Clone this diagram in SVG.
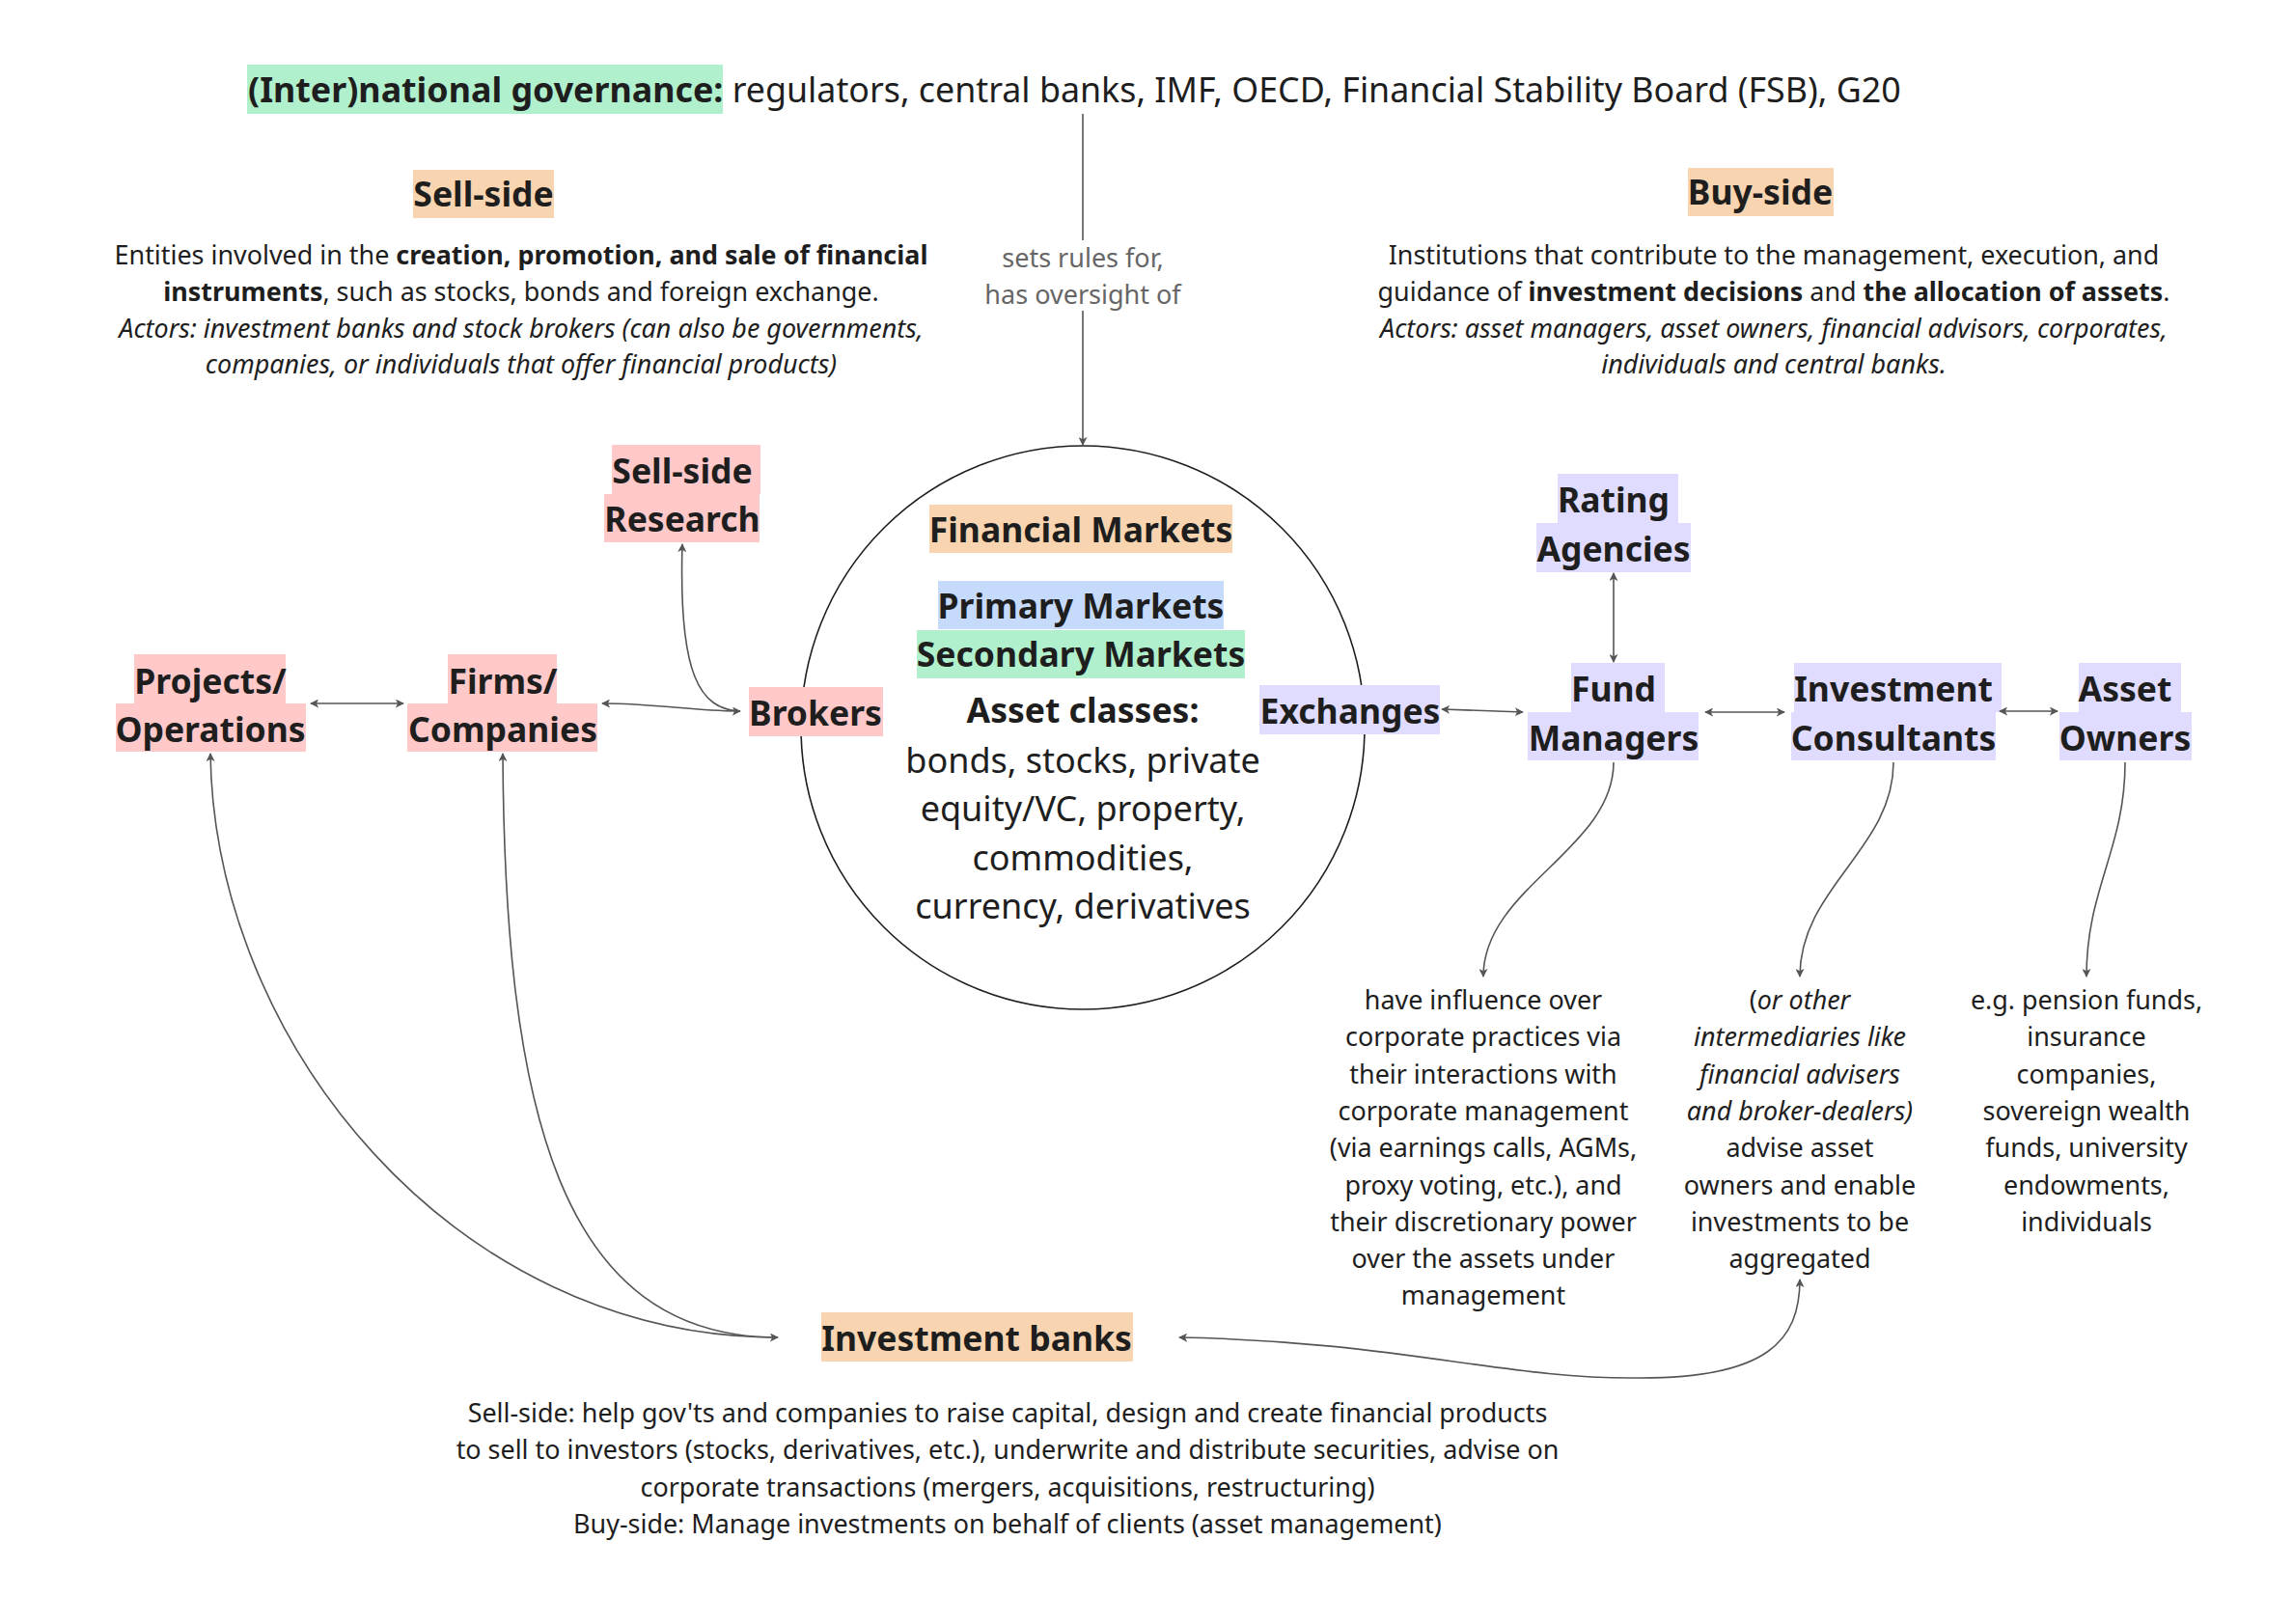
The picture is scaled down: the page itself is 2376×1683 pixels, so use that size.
<svg xmlns="http://www.w3.org/2000/svg" width="2376" height="1683" viewBox="0 0 2376 1683">
<defs>
<style>
text{font-family:"Noto Sans","Open Sans","DejaVu Sans",sans-serif;fill:#1e1e1e}
.h{font-size:35.5px;font-weight:bold;text-anchor:middle}
.b{font-size:26.9px;text-anchor:middle}
.big{font-size:36px;text-anchor:middle}
.lbl{font-size:27px;text-anchor:middle;fill:#666}
.it{font-style:italic}
.bd{font-weight:bold}
.pink{fill:#ffc9c9}
.lav{fill:#e0dcff}
.peach{fill:#f8d5b0}
.green{fill:#b0f0cc}
.blue{fill:#c6dafb}
.c{fill:none;stroke:#555;stroke-width:1.6}
</style>
<marker id="ah" viewBox="0 0 10 10" refX="9" refY="5" markerWidth="9" markerHeight="9" markerUnits="userSpaceOnUse" orient="auto-start-reverse">
<path d="M0,0 L10,5 L0,10 L2.5,5 z" fill="#555"/>
</marker>
</defs>
<rect width="2376" height="1683" fill="#ffffff"/>

<g id="governance">
<rect class="green" x="256" y="67" width="493" height="51"/>
<text x="257" y="106" style="font-size:35.8px"><tspan class="bd">(Inter)national governance:</tspan> regulators, central banks, IMF, OECD, Financial Stability Board (FSB), G20</text>
</g>

<g id="sell-side">
<rect class="peach" x="428" y="176" width="146" height="50"/>
<text class="h" x="501" y="214">Sell-side</text>
<text class="b" x="540" y="274">Entities involved in the <tspan class="bd">creation, promotion, and sale of financial</tspan></text>
<text class="b" x="540" y="312"><tspan class="bd">instruments</tspan>, such as stocks, bonds and foreign exchange.</text>
<text class="b it" x="540" y="350">Actors: investment banks and stock brokers (can also be governments,</text>
<text class="b it" x="540" y="387">companies, or individuals that offer financial products)</text>
</g>

<g id="buy-side">
<rect class="peach" x="1749" y="174" width="151" height="50"/>
<text class="h" x="1824" y="212">Buy-side</text>
<text class="b" x="1838" y="274">Institutions that contribute to the management, execution, and</text>
<text class="b" x="1838" y="312">guidance of <tspan class="bd">investment decisions</tspan> and <tspan class="bd">the allocation of assets</tspan>.</text>
<text class="b it" x="1838" y="350">Actors: asset managers, asset owners, financial advisors, corporates,</text>
<text class="b it" x="1838" y="387">individuals and central banks.</text>
</g>

<g id="financial-markets">
<circle cx="1122" cy="754" r="292" fill="none" stroke="#1e1e1e" stroke-width="1.6"/>
<rect class="peach" x="963" y="523" width="314" height="50"/>
<text class="h" x="1120" y="562">Financial Markets</text>
<rect class="blue" x="972" y="602" width="296" height="50"/>
<text class="h" x="1120" y="641">Primary Markets</text>
<rect class="green" x="950" y="653" width="340" height="50"/>
<text class="h" x="1120" y="691">Secondary Markets</text>
<text class="h" x="1122" y="749">Asset classes:</text>
<text class="big" x="1122" y="801">bonds, stocks, private</text>
<text class="big" x="1122" y="851">equity/VC, property,</text>
<text class="big" x="1122" y="902">commodities,</text>
<text class="big" x="1122" y="952">currency, derivatives</text>
</g>

<g id="sell-side-research">
<rect class="pink" x="634" y="461" width="154" height="51"/>
<rect class="pink" x="626" y="512" width="161" height="50"/>
<text class="h" x="707" y="501">Sell-side</text>
<text class="h" x="707" y="551">Research</text>
</g>

<g id="projects">
<rect class="pink" x="139" y="678" width="157" height="51"/>
<rect class="pink" x="120" y="729" width="197" height="50"/>
<text class="h" x="218" y="719">Projects/</text>
<text class="h" x="218" y="769">Operations</text>
</g>

<g id="firms">
<rect class="pink" x="464" y="678" width="113" height="51"/>
<rect class="pink" x="422" y="729" width="197" height="50"/>
<text class="h" x="521" y="719">Firms/</text>
<text class="h" x="521" y="769">Companies</text>
</g>

<g id="brokers">
<rect class="pink" x="776" y="712" width="139" height="51"/>
<text class="h" x="845" y="752">Brokers</text>
</g>

<g id="exchanges">
<rect class="lav" x="1305" y="710" width="187" height="51"/>
<text class="h" x="1399" y="750">Exchanges</text>
</g>

<g id="rating-agencies">
<rect class="lav" x="1614" y="491" width="125" height="51"/>
<rect class="lav" x="1592" y="542" width="160" height="51"/>
<text class="h" x="1672" y="531">Rating</text>
<text class="h" x="1672" y="582">Agencies</text>
</g>

<g id="fund-managers">
<rect class="lav" x="1628" y="687" width="97" height="51"/>
<rect class="lav" x="1583" y="738" width="177" height="50"/>
<text class="h" x="1672" y="727">Fund</text>
<text class="h" x="1672" y="778">Managers</text>
</g>

<g id="investment-consultants">
<rect class="lav" x="1859" y="687" width="215" height="51"/>
<rect class="lav" x="1856" y="738" width="212" height="50"/>
<text class="h" x="1962" y="727">Investment</text>
<text class="h" x="1962" y="778">Consultants</text>
</g>

<g id="asset-owners">
<rect class="lav" x="2154" y="687" width="106" height="51"/>
<rect class="lav" x="2134" y="738" width="137" height="50"/>
<text class="h" x="2202" y="727">Asset</text>
<text class="h" x="2202" y="778">Owners</text>
</g>

<g id="fund-note">
<text class="b" x="1537" y="1046">have influence over</text>
<text class="b" x="1537" y="1084">corporate practices via</text>
<text class="b" x="1537" y="1123">their interactions with</text>
<text class="b" x="1537" y="1161">corporate management</text>
<text class="b" x="1537" y="1199">(via earnings calls, AGMs,</text>
<text class="b" x="1537" y="1238">proxy voting, etc.), and</text>
<text class="b" x="1537" y="1276">their discretionary power</text>
<text class="b" x="1537" y="1314">over the assets under</text>
<text class="b" x="1537" y="1352">management</text>
</g>

<g id="consultants-note">
<text class="b" x="1865" y="1046">(<tspan class="it">or other</tspan></text>
<text class="b it" x="1865" y="1084">intermediaries like</text>
<text class="b it" x="1865" y="1123">financial advisers</text>
<text class="b it" x="1865" y="1161">and broker-dealers)</text>
<text class="b" x="1865" y="1199">advise asset</text>
<text class="b" x="1865" y="1238">owners and enable</text>
<text class="b" x="1865" y="1276">investments to be</text>
<text class="b" x="1865" y="1314">aggregated</text>
</g>

<g id="owners-note">
<text class="b" x="2162" y="1046">e.g. pension funds,</text>
<text class="b" x="2162" y="1084">insurance</text>
<text class="b" x="2162" y="1123">companies,</text>
<text class="b" x="2162" y="1161">sovereign wealth</text>
<text class="b" x="2162" y="1199">funds, university</text>
<text class="b" x="2162" y="1238">endowments,</text>
<text class="b" x="2162" y="1276">individuals</text>
</g>

<g id="investment-banks">
<rect class="peach" x="851" y="1360" width="323" height="51"/>
<text class="h" x="1012" y="1400">Investment banks</text>
<text class="b" x="1044" y="1474">Sell-side: help gov'ts and companies to raise capital, design and create financial products</text>
<text class="b" x="1044" y="1512">to sell to investors (stocks, derivatives, etc.), underwrite and distribute securities, advise on</text>
<text class="b" x="1044" y="1551">corporate transactions (mergers, acquisitions, restructuring)</text>
<text class="b" x="1044" y="1589">Buy-side: Manage investments on behalf of clients (asset management)</text>
</g>

<g id="connectors">
<line class="c" x1="1122" y1="118" x2="1122" y2="249"/>
<line class="c" x1="1122" y1="322" x2="1122" y2="461" marker-end="url(#ah)"/>
<text class="lbl" x="1122" y="277">sets rules for,</text>
<text class="lbl" x="1122" y="315">has oversight of</text>
<line class="c" x1="322" y1="729" x2="418" y2="729" marker-start="url(#ah)" marker-end="url(#ah)"/>
<path class="c" d="M624 729 C680 729 720 737 767 737" marker-start="url(#ah)" marker-end="url(#ah)"/>
<path class="c" d="M707 564 C703 700 725 735 767 737" marker-start="url(#ah)"/>
<path class="c" d="M1494 735 L1578 738" marker-start="url(#ah)" marker-end="url(#ah)"/>
<line class="c" x1="1672" y1="594" x2="1672" y2="686" marker-start="url(#ah)" marker-end="url(#ah)"/>
<line class="c" x1="1767" y1="738" x2="1849" y2="738" marker-start="url(#ah)" marker-end="url(#ah)"/>
<line class="c" x1="2072" y1="737" x2="2132" y2="737" marker-start="url(#ah)" marker-end="url(#ah)"/>
<path class="c" d="M1672 790 C1672 880 1537 920 1537 1012" marker-end="url(#ah)"/>
<path class="c" d="M1962 790 C1962 880 1865 920 1865 1012" marker-end="url(#ah)"/>
<path class="c" d="M2202 790 C2202 880 2162 920 2162 1012" marker-end="url(#ah)"/>
<path class="c" d="M218 781 C222 1080 470 1386 806 1386" marker-start="url(#ah)" marker-end="url(#ah)"/>
<path class="c" d="M521 781 C523 1150 580 1386 806 1386" marker-start="url(#ah)"/>
<path class="c" d="M1222 1386 C1450 1390 1560 1430 1700 1428 C1830 1428 1865 1390 1865 1326" marker-start="url(#ah)" marker-end="url(#ah)"/>
</g>
</svg>
